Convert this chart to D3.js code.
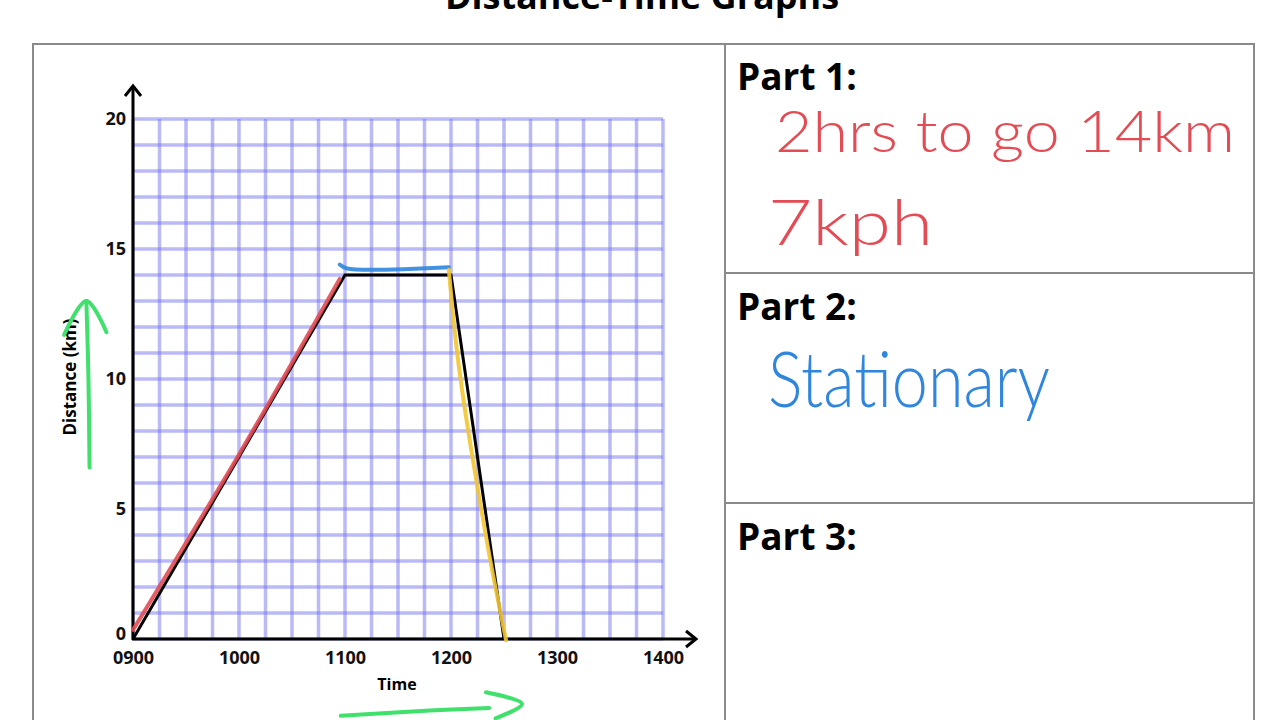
<!DOCTYPE html>
<html lang="en">
<head>
<meta charset="UTF-8">
<title>Distance-Time Graphs</title>
<script src="https://d3js.org/d3.v7.min.js"></script>
<style>
    body { margin: 0; background: #fff; }
    svg { display: block; }
    .bold { font-family: "Open Sans", "DejaVu Sans", sans-serif; font-weight: 700; }
    .hand { font-family: Lato, "Open Sans", sans-serif; font-weight: 300; }
</style>
</head>
<body>
<div id="chart"></div>
<script>
    // journey (time in decimal hours, distance in km)
    var times = [9, 11, 12, 12.5];
    var distances = [0, 14, 14, 0];

    // pen marks drawn over the graph
    var redTimes = [9.0, 10.0, 10.95];
    var redKm = [0.35, 7.1, 13.85];
    var blueTimes = [10.95, 11.02, 11.98];
    var blueKm = [14.4, 14.25, 14.3];
    var yellowTimes = [11.98, 12.08, 12.35, 12.52];
    var yellowKm = [14.2, 10.3, 3.5, -0.05];

    var xTicks = [9, 10, 11, 12, 13, 14];
    var xTickLabels = ["0900", "1000", "1100", "1200", "1300", "1400"];
    var yTicks = [0, 5, 10, 15, 20];

    var parts = ["Part 1:", "Part 2:", "Part 3:"];
    var notes1 = ["2hrs to go 14km", "7kph"];
    var notes2 = ["Stationary"];

    var W = 1280, H = 720;
    var svg = d3.select("#chart").append("svg")
        .attr("width", W)
        .attr("height", H);

    svg.append("rect").attr("width", W).attr("height", H).attr("fill", "#fff");

    // title (mostly cut off at the top of the slide)
    svg.append("text")
        .attr("class", "bold")
        .attr("x", 642)
        .attr("y", 9)
        .attr("text-anchor", "middle")
        .style("font-size", "36px")
        .text("Distance-Time Graphs");

    // table frame
    var frame = svg.append("g").attr("stroke", "#8a8a8a").attr("stroke-width", 2).attr("fill", "none");
    frame.append("rect").attr("x", 33).attr("y", 44).attr("width", 1221).attr("height", 700);
    frame.append("line").attr("x1", 725).attr("x2", 725).attr("y1", 44).attr("y2", 720);
    frame.append("line").attr("x1", 725).attr("x2", 1254).attr("y1", 273).attr("y2", 273);
    frame.append("line").attr("x1", 725).attr("x2", 1254).attr("y1", 503).attr("y2", 503);

    // scales
    var x = d3.scaleLinear().domain([9, 14]).range([133, 663]);
    var y = d3.scaleLinear().domain([0, 20]).range([639, 119]);

    // grid paper
    var grid = svg.append("g")
        .attr("stroke", "#7676f0")
        .attr("stroke-opacity", 0.5)
        .attr("stroke-width", 3.5);

    grid.selectAll(".v").data(d3.range(9, 14.01, 0.25))
        .enter().append("line")
        .attr("x1", d => x(d)).attr("x2", d => x(d))
        .attr("y1", y(0)).attr("y2", y(20));

    grid.selectAll(".h").data(d3.range(0, 20.01, 1))
        .enter().append("line")
        .attr("x1", x(9)).attr("x2", x(14))
        .attr("y1", d => y(d)).attr("y2", d => y(d));

    // axes with arrows
    var ax = svg.append("g").attr("stroke", "#000").attr("stroke-width", 3).attr("fill", "none");
    ax.append("line").attr("x1", x(9)).attr("x2", x(9)).attr("y1", y(0) + 1).attr("y2", 86);
    ax.append("path").attr("d", "M" + (x(9) - 8) + ",96 L" + x(9) + ",86 L" + (x(9) + 8) + ",96");
    ax.append("line").attr("x1", x(9) - 1).attr("x2", 696).attr("y1", y(0)).attr("y2", y(0));
    ax.append("path").attr("d", "M686," + (y(0) - 8) + " L696," + y(0) + " L686," + (y(0) + 8));

    var yAxis = svg.append("g")
        .attr("transform", "translate(" + x(9) + ",0)")
        .call(d3.axisLeft(y).tickValues(yTicks).tickSize(0).tickPadding(7));
    var xAxis = svg.append("g")
        .attr("transform", "translate(0," + y(0) + ")")
        .call(d3.axisBottom(x).tickValues(xTicks).tickSize(0).tickPadding(12)
            .tickFormat((d, i) => xTickLabels[i]));

    [xAxis, yAxis].forEach(function (a) {
        a.select(".domain").remove();
        a.selectAll("text")
            .attr("class", "bold")
            .attr("fill", "#111")
            .style("font-size", "18px");
    });
    yAxis.selectAll("text").filter(d => d === 0).attr("dy", "0.05em");

    svg.append("text")
        .attr("class", "bold")
        .attr("x", 397).attr("y", 690)
        .attr("text-anchor", "middle")
        .style("font-size", "16px")
        .text("Time");

    svg.append("text")
        .attr("class", "bold")
        .attr("transform", "translate(76,377) rotate(-90)")
        .attr("text-anchor", "middle")
        .style("font-size", "17px")
        .text("Distance (km)");

    // journey line
    var line = d3.line().x(d => x(d[0])).y(d => y(d[1]));

    svg.append("path")
        .datum(d3.zip(times, distances))
        .attr("d", line)
        .attr("fill", "none")
        .attr("stroke", "#000")
        .attr("stroke-width", 3)
        .attr("stroke-linejoin", "round");

    // pen strokes
    var pen = d3.line().curve(d3.curveCatmullRom).x(d => x(d[0])).y(d => y(d[1]));
    function penStroke(ts, ks, colour) {
        svg.append("path")
            .datum(d3.zip(ts, ks))
            .attr("d", pen)
            .attr("fill", "none")
            .attr("stroke", colour)
            .attr("stroke-width", 4)
            .attr("stroke-opacity", 0.9)
            .attr("stroke-linecap", "round");
    }
    penStroke(redTimes, redKm, "#e34b55");
    penStroke(blueTimes, blueKm, "#2f86dc");
    penStroke(yellowTimes, yellowKm, "#f2c531");

    // green arrows (in chart units, outside the grid)
    var greenUp = [[8.59, 6.6], [8.58, 10], [8.56, 13.0]];
    var greenUpHead = [[8.35, 11.7], [8.56, 13.0], [8.75, 11.8]];
    var greenRight = [[10.96, -2.95], [11.8, -2.75], [12.36, -2.65]];
    var greenRightHead = [[12.33, -2.05], [12.67, -2.5], [12.42, -3.05]];
    [greenUp, greenUpHead, greenRight, greenRightHead].forEach(function (pts) {
        svg.append("path")
            .datum(pts)
            .attr("d", pen)
            .attr("fill", "none")
            .attr("stroke", "#3fe06c")
            .attr("stroke-width", 4)
            .attr("stroke-linecap", "round")
            .attr("stroke-linejoin", "round");
    });

    // right-hand panels
    var partY = [90, 320, 550];
    svg.selectAll(".part").data(parts).enter().append("text")
        .attr("class", "bold")
        .attr("x", 737)
        .attr("y", (d, i) => partY[i])
        .style("font-size", "37px")
        .attr("fill", "#000")
        .text(d => d);

    svg.append("text").attr("class", "hand")
        .attr("x", 775).attr("y", 152)
        .attr("textLength", 460).attr("lengthAdjust", "spacingAndGlyphs")
        .style("font-size", "58px").attr("fill", "#e34b55")
        .text(notes1[0]);
    svg.append("text").attr("class", "hand")
        .attr("x", 768).attr("y", 245)
        .attr("textLength", 165).attr("lengthAdjust", "spacingAndGlyphs")
        .style("font-size", "64px").attr("fill", "#e34b55")
        .text(notes1[1]);
    svg.append("text").attr("class", "hand")
        .attr("x", 768).attr("y", 407)
        .attr("textLength", 282).attr("lengthAdjust", "spacingAndGlyphs")
        .style("font-size", "76px").attr("fill", "#2f86dc")
        .text(notes2[0]);
</script>
</body>
</html>
